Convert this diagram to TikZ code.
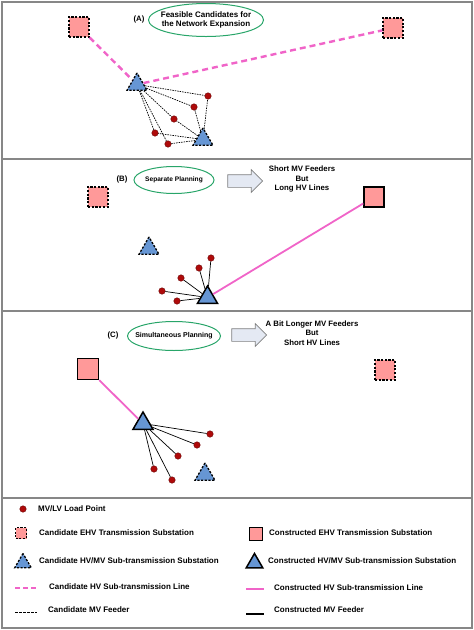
\documentclass[tikz,border=0pt]{standalone}
\usepackage{fontspec}
\setmainfont{Liberation Sans}
\usetikzlibrary{shapes.geometric,shapes.arrows}

\definecolor{ehvpink}{RGB}{255,153,153}
\definecolor{hvblue}{RGB}{102,150,212}
\definecolor{loadred}{RGB}{175,10,10}
\definecolor{linepink}{RGB}{240,100,200}
\definecolor{ovalgreen}{RGB}{40,165,105}
\definecolor{framegray}{RGB}{135,135,135}
\definecolor{arrowfill}{RGB}{228,233,243}

\tikzset{
  candsq/.style={rectangle,fill=ehvpink,draw=black,line width=1.3pt,
    dash pattern=on 2.2pt off 1.5pt,minimum size=#1,inner sep=0pt},
  candsq/.default=20pt,
  consq/.style={rectangle,fill=ehvpink,draw=black,line width=1.5pt,
    minimum size=#1,inner sep=0pt},
  consq/.default=20pt,
  candtri/.style={regular polygon,regular polygon sides=3,fill=hvblue,draw=black,
    line width=1.3pt,dash pattern=on 2.2pt off 1.5pt,minimum size=#1,inner sep=0pt},
  candtri/.default=23pt,
  contri/.style={regular polygon,regular polygon sides=3,fill=hvblue,draw=black,
    line width=1.5pt,minimum size=#1,inner sep=0pt},
  contri/.default=23pt,
  load/.style={circle,fill=loadred,draw=loadred!60!black,line width=0.4pt,
    minimum size=6.5pt,inner sep=0pt},
  candhv/.style={linepink,line width=2.4pt,dash pattern=on 6pt off 4pt},
  conhv/.style={linepink,line width=1.8pt},
  candfeed/.style={black,line width=0.7pt,dash pattern=on 1.5pt off 1pt},
  confeed/.style={black,line width=0.7pt},
  oval/.style={ellipse,draw=ovalgreen,line width=1pt,inner xsep=-6pt,inner ysep=0pt,
    align=center,font=\fontsize{#1}{9}\selectfont\bfseries},
  oval/.default=8,
  blockarrow/.style={single arrow,draw=gray,fill=arrowfill,line width=0.7pt,
    minimum height=35pt,minimum width=22pt,single arrow head extend=5pt,
    inner xsep=0pt,inner ysep=6pt},
  txt/.style={font=\fontsize{7.8}{9.5}\selectfont\bfseries,inner sep=0pt},
  legtxt/.style={font=\fontsize{8}{9.5}\selectfont\bfseries,inner sep=0pt,anchor=west}
}

\begin{document}
\begin{tikzpicture}[x=1pt,y=-1pt]
  \useasboundingbox (0,0) rectangle (474,630);
  % frame and panels
  \draw[framegray,line width=2pt] (2,2) rectangle (472,628);
  \draw[framegray,line width=1.5pt] (2,159) -- (472,159);
  \draw[framegray,line width=1.5pt] (2,311) -- (472,311);
  \draw[framegray,line width=1.5pt] (2,498) -- (472,498);

  % (A) feasible candidates
  \node[txt] (labA) at (139,19) {(A)};
  \node[oval,minimum width=115pt,minimum height=33pt] (ovalA) at (206,20)
    {Feasible Candidates for\\the Network Expansion};
  \node[candsq] (ehvA1) at (79,27) {};
  \node[candsq] (ehvA2) at (393,28) {};
  \node[candtri] (hvA1) at (137,84.5) {};
  \node[candtri] (hvA2) at (203,139.5) {};
  \foreach \x/\y [count=\i] in {208/96,194/107,174/119,155/133,168/144}
    \node[load] (ldA\i) at (\x,\y) {};
  \foreach \i in {1,...,5} {
    \draw[candfeed] (hvA1) -- (ldA\i);
    \draw[candfeed] (hvA2) -- (ldA\i);
  }
  \draw[candhv] (ehvA1) -- (hvA1);
  \draw[candhv] (hvA1) -- (ehvA2);

  % (B) separate planning
  \node[txt] (labB) at (122,179) {(B)};
  \node[oval=6.6,minimum width=80pt,minimum height=27pt] (ovalB) at (174,180)
    {Separate Planning};
  \node[blockarrow] (arrB) at (242,181) {};
  \node[txt,align=center] (resB) at (302,179)
    {Short MV Feeders\\But\\Long HV Lines};
  \node[candsq] (ehvB1) at (98,197) {};
  \node[consq] (ehvB2) at (374,197) {};
  \node[candtri] (hvB1) at (149,248.5) {};
  \node[contri] (hvB2) at (207.5,297.5) {};
  \foreach \x/\y [count=\i] in {211/258,199/268,181/278,162/291,177/301}
    \node[load] (ldB\i) at (\x,\y) {};
  \foreach \i in {1,...,5}
    \draw[confeed] (hvB2) -- (ldB\i);
  \draw[conhv] (hvB2) -- (ehvB2);

  % (C) simultaneous planning
  \node[txt] (labC) at (113,335) {(C)};
  \node[oval=7,minimum width=93pt,minimum height=29pt] (ovalC) at (174,336)
    {Simultaneous Planning};
  \node[blockarrow] (arrC) at (246,335) {};
  \node[txt,align=center] (resC) at (312,333)
    {A Bit Longer MV Feeders\\But\\Short HV Lines};
  \node[consq=21pt] (ehvC1) at (88,369) {};
  \node[candsq] (ehvC2) at (385,370) {};
  \node[contri] (hvC1) at (143,423.5) {};
  \node[candtri] (hvC2) at (205,474.5) {};
  \foreach \x/\y [count=\i] in {210/434,197/445,178/456,154/469,172/480}
    \node[load] (ldC\i) at (\x,\y) {};
  \foreach \i in {1,...,5}
    \draw[confeed] (hvC1) -- (ldC\i);
  \draw[conhv] (ehvC1) -- (hvC1);

  % legend
  \node[load] (lgload) at (23,509) {};
  \node[legtxt] at (38,509) {MV/LV Load Point};
  \node[candsq=11pt] (lgcsq) at (21,533) {};
  \node[legtxt] at (39,533) {Candidate EHV Transmission Substation};
  \node[consq=13pt] (lgksq) at (256,534) {};
  \node[legtxt] at (269,533) {Constructed EHV Transmission Substation};
  \node[candtri=19pt] (lgctri) at (23,563) {};
  \node[legtxt] at (39,561) {Candidate HV/MV Sub-transmission Substation};
  \node[contri=19pt] (lgktri) at (254.5,563) {};
  \node[legtxt] at (268,561) {Constructed HV/MV Sub-transmission Substation};
  \coordinate (lgca) at (15,588);
  \coordinate (lgcb) at (38,588);
  \draw[candhv,line width=2pt,dash pattern=on 5pt off 3pt] (lgca) -- (lgcb);
  \node[legtxt] at (49,587) {Candidate HV Sub-transmission Line};
  \coordinate (lgka) at (246,589);
  \coordinate (lgkb) at (264,589);
  \draw[conhv] (lgka) -- (lgkb);
  \node[legtxt] at (274,588) {Constructed HV Sub-transmission Line};
  \coordinate (lgfa) at (15,612);
  \coordinate (lgfb) at (37,612);
  \draw[candfeed,line width=1pt,dash pattern=on 2.5pt off 1.5pt] (lgfa) -- (lgfb);
  \node[legtxt] at (48,610) {Candidate MV Feeder};
  \coordinate (lgga) at (246,614);
  \coordinate (lggb) at (264,614);
  \draw[confeed,line width=1.2pt] (lgga) -- (lggb);
  \node[legtxt] at (274,610) {Constructed MV Feeder};
\end{tikzpicture}
\end{document}
